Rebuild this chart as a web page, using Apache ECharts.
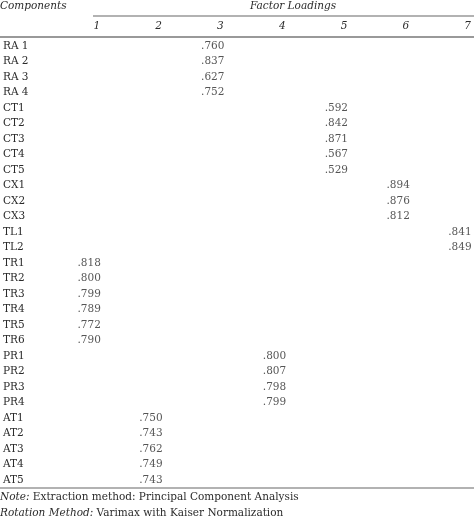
<!DOCTYPE html><html><head><meta charset="utf-8">
<script src="https://cdn.jsdelivr.net/npm/echarts@6/dist/echarts.min.js"></script>
<style>html,body{margin:0;padding:0;background:#fff}#c{width:474px;height:519px}</style></head><body><div id="c"></div>
<script>
const components=["RA 1","RA 2","RA 3","RA 4","CT1","CT2","CT3","CT4","CT5","CX1","CX2","CX3","TL1","TL2","TR1","TR2","TR3","TR4","TR5","TR6","PR1","PR2","PR3","PR4","AT1","AT2","AT3","AT4","AT5"];
const factorColumn=[3,3,3,3,5,5,5,5,5,6,6,6,7,7,1,1,1,1,1,1,4,4,4,4,2,2,2,2,2];
const loadings=[".760",".837",".627",".752",".592",".842",".871",".567",".529",".894",".876",".812",".841",".849",".818",".800",".799",".789",".772",".790",".800",".807",".798",".799",".750",".743",".762",".749",".743"];
const factorLabels=["1","2","3","4","5","6","7"];
const FONT="DejaVu Serif",COL="#2b2b2b";
const chart=echarts.init(document.getElementById('c'));
chart.setOption({
 animation:false,
 grid:{left:32,right:1,top:38.25,height:449.5},
 xAxis:{type:'value',position:'top',min:0,max:7,interval:1,splitLine:{show:false},axisLine:{show:false},axisTick:{show:false},
  axisLabel:{margin:6,fontFamily:FONT,fontStyle:'italic',fontSize:10.5,color:COL,formatter:v=>v>=1?factorLabels[v-1]:''}},
 yAxis:{type:'category',inverse:true,data:components,axisLine:{show:false},axisTick:{show:false},
  axisLabel:{align:'left',margin:32,fontFamily:FONT,fontSize:10.5,color:COL}},
 series:[{type:'scatter',symbolSize:0,data:components.map((c,i)=>[factorColumn[i],c,loadings[i]]),
  label:{show:true,position:'inside',align:'right',offset:[4,0],formatter:p=>p.value[2],fontFamily:FONT,fontSize:10.5,color:COL}}],
 graphic:[
  {type:'text',left:0,top:1,style:{text:'Components',font:'italic 10.5px "DejaVu Serif"',fill:COL}},
  {type:'text',left:250,top:1,style:{text:'Factor Loadings',font:'italic 10.5px "DejaVu Serif"',fill:COL}},
  {type:'line',shape:{x1:93,y1:16,x2:474,y2:16},style:{stroke:'#999',lineWidth:1.5}},
  {type:'line',shape:{x1:0,y1:37,x2:474,y2:37},style:{stroke:'#999',lineWidth:2}},
  {type:'line',shape:{x1:0,y1:488,x2:474,y2:488},style:{stroke:'#999',lineWidth:1.5}},
  {type:'text',left:0,top:491,style:{rich:{i:{font:'italic 10.5px "DejaVu Serif"',fill:COL},n:{font:'10.5px "DejaVu Serif"',fill:COL}},text:'{i|Note:} {n|Extraction method: Principal Component Analysis}'}},
  {type:'text',left:0,top:507,style:{rich:{i:{font:'italic 10.5px "DejaVu Serif"',fill:COL},n:{font:'10.5px "DejaVu Serif"',fill:COL}},text:'{i|Rotation Method:} {n|Varimax with Kaiser Normalization}'}}
 ]
});
</script></body></html>
